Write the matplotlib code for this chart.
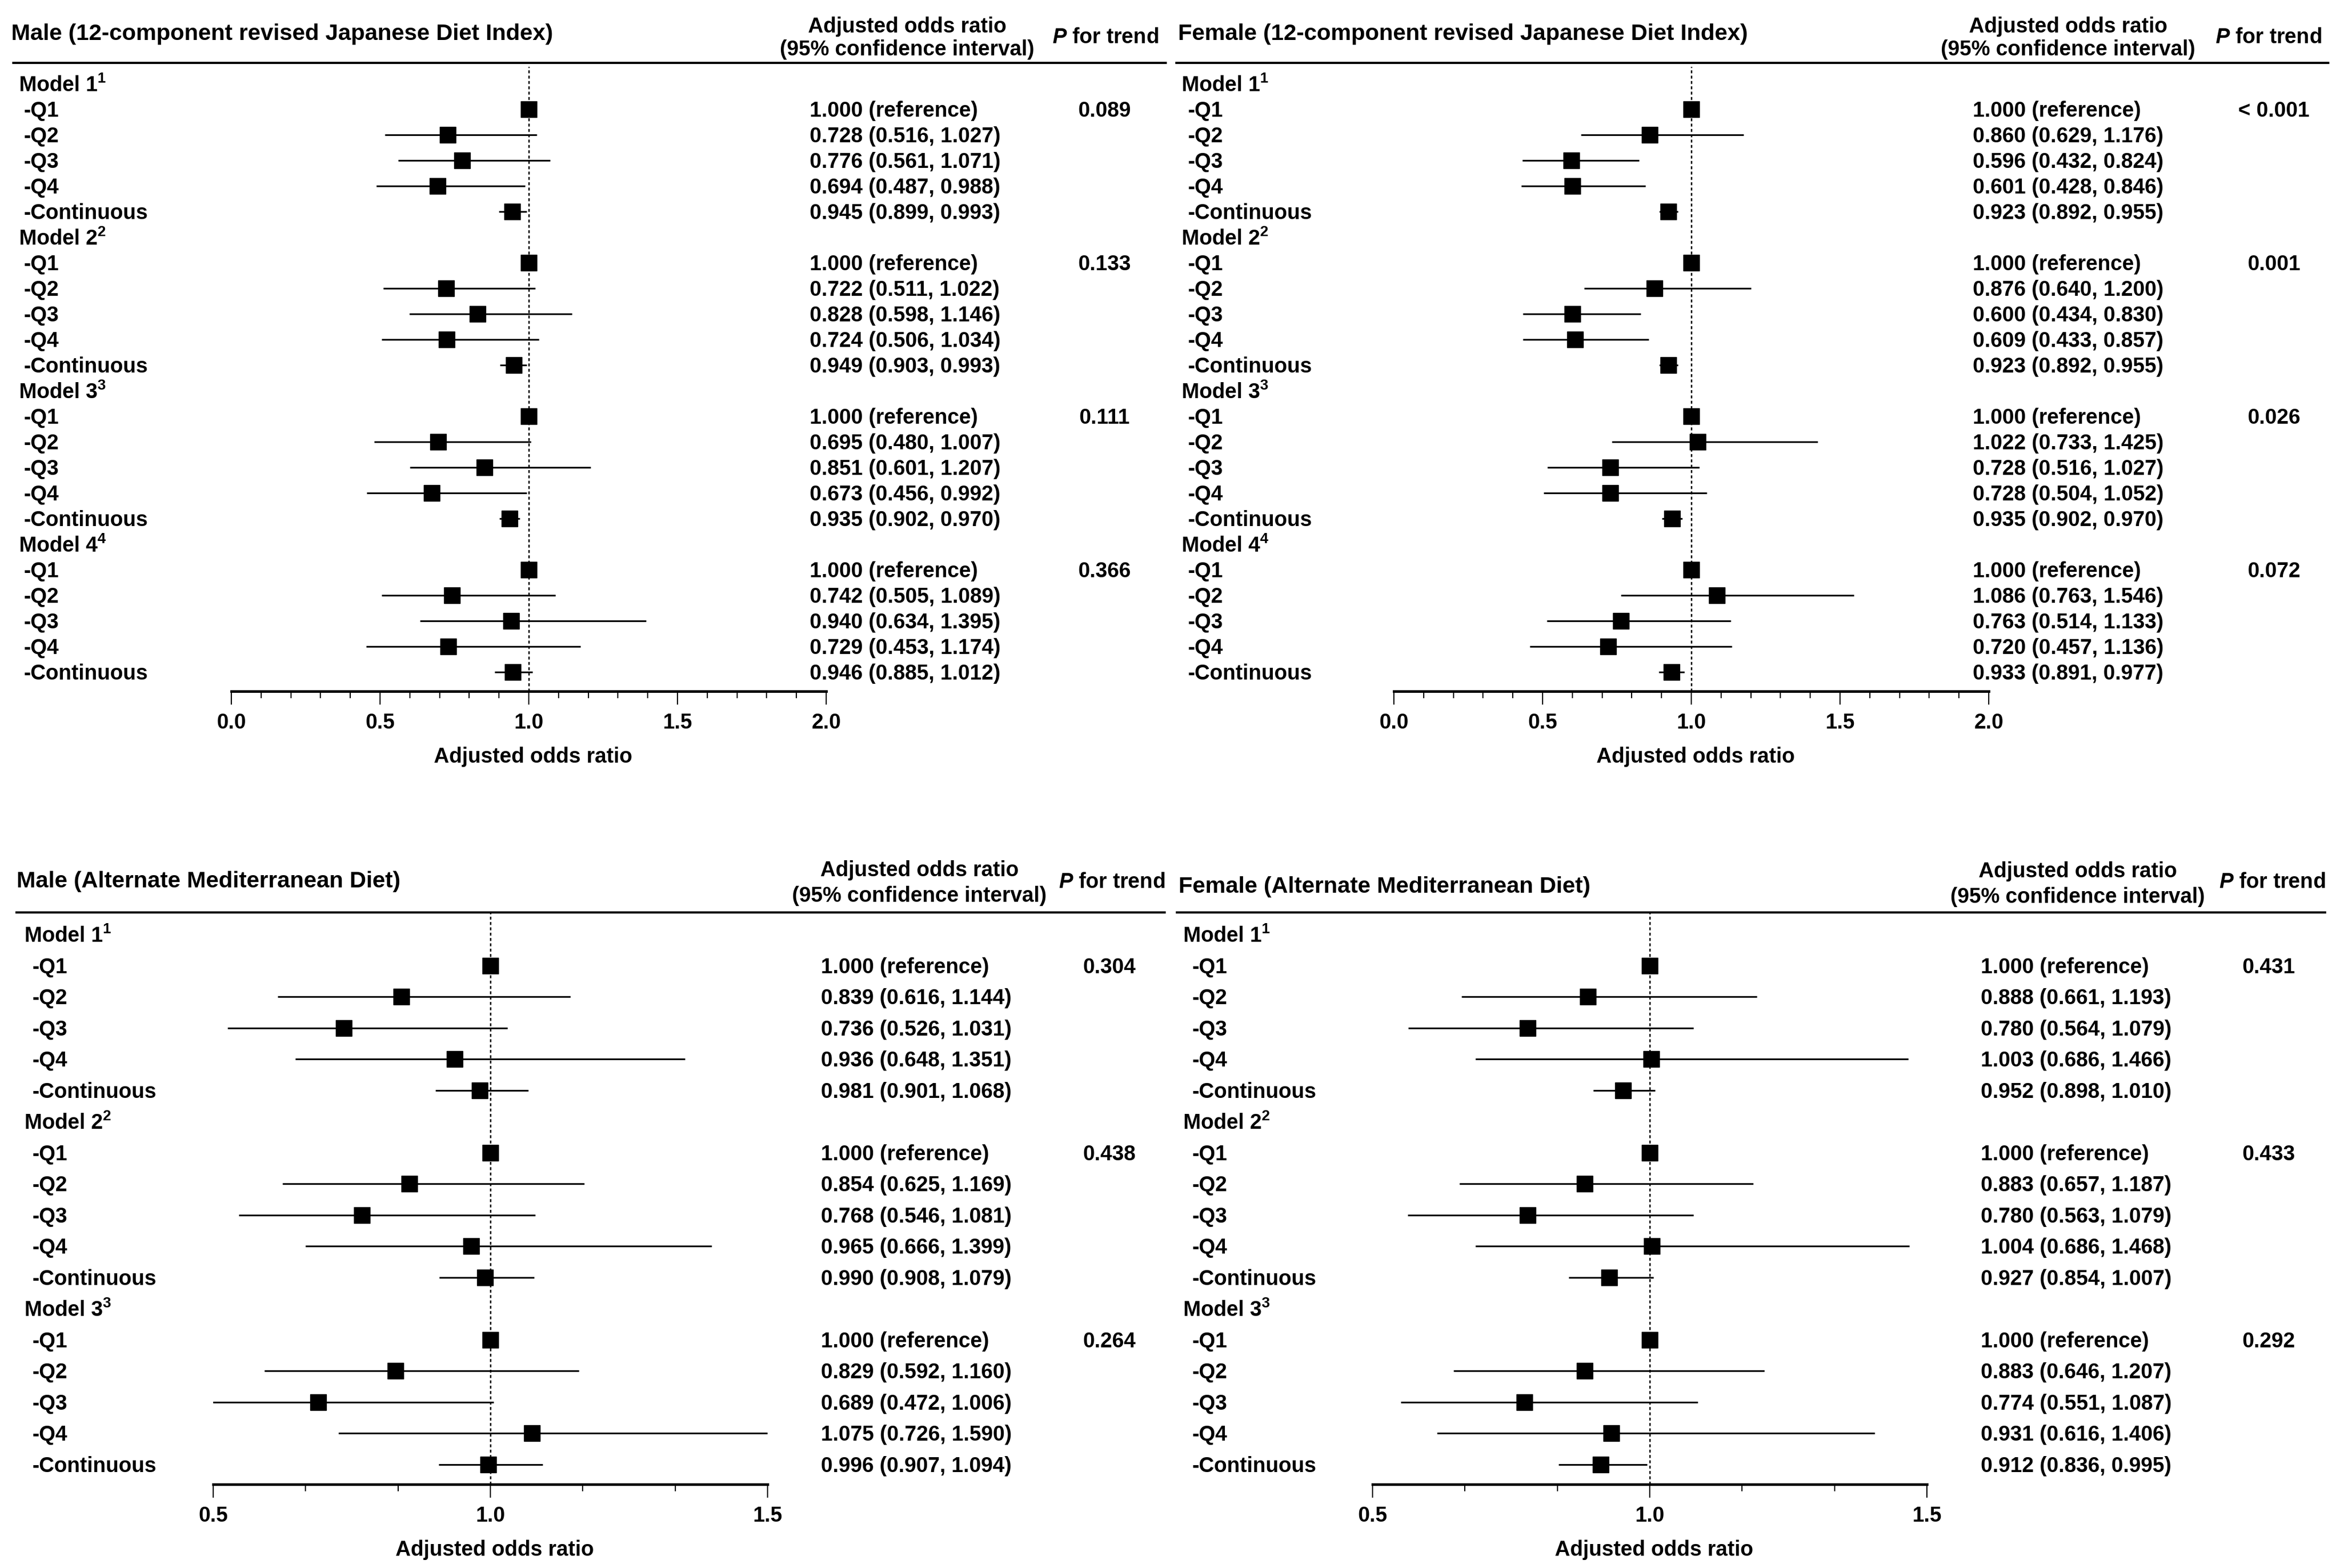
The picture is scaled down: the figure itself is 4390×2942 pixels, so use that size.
import numpy as np
import matplotlib
matplotlib.use("Agg")
import matplotlib.pyplot as plt
import matplotlib.transforms as mtransforms
from matplotlib.ticker import MultipleLocator, FormatStrFormatter

plt.rcParams['font.family'] = ['Liberation Sans', 'DejaVu Sans']
plt.rcParams['font.weight'] = 'bold'
plt.rcParams['mathtext.fontset'] = 'custom'
plt.rcParams['mathtext.rm'] = 'Liberation Sans:bold'
plt.rcParams['mathtext.it'] = 'Liberation Sans:italic:bold'
plt.rcParams['mathtext.bf'] = 'Liberation Sans:bold'

# ---------------- data ----------------
items = ["-Q1", "-Q2", "-Q3", "-Q4", "-Continuous"]
models_jdi = ["Model 1$^{1}$", "Model 2$^{2}$", "Model 3$^{3}$", "Model 4$^{4}$"]
models_amed = ["Model 1$^{1}$", "Model 2$^{2}$", "Model 3$^{3}$"]

nan = np.nan
# Male, 12-component revised Japanese Diet Index
male_jdi_or = [[1.000, 0.728, 0.776, 0.694, 0.945],
               [1.000, 0.722, 0.828, 0.724, 0.949],
               [1.000, 0.695, 0.851, 0.673, 0.935],
               [1.000, 0.742, 0.940, 0.729, 0.946]]
male_jdi_lo = [[nan, 0.516, 0.561, 0.487, 0.899],
               [nan, 0.511, 0.598, 0.506, 0.903],
               [nan, 0.480, 0.601, 0.456, 0.902],
               [nan, 0.505, 0.634, 0.453, 0.885]]
male_jdi_hi = [[nan, 1.027, 1.071, 0.988, 0.993],
               [nan, 1.022, 1.146, 1.034, 0.993],
               [nan, 1.007, 1.207, 0.992, 0.970],
               [nan, 1.089, 1.395, 1.174, 1.012]]
male_jdi_p = ["0.089", "0.133", "0.111", "0.366"]

# Female, 12-component revised Japanese Diet Index
female_jdi_or = [[1.000, 0.860, 0.596, 0.601, 0.923],
                 [1.000, 0.876, 0.600, 0.609, 0.923],
                 [1.000, 1.022, 0.728, 0.728, 0.935],
                 [1.000, 1.086, 0.763, 0.720, 0.933]]
female_jdi_lo = [[nan, 0.629, 0.432, 0.428, 0.892],
                 [nan, 0.640, 0.434, 0.433, 0.892],
                 [nan, 0.733, 0.516, 0.504, 0.902],
                 [nan, 0.763, 0.514, 0.457, 0.891]]
female_jdi_hi = [[nan, 1.176, 0.824, 0.846, 0.955],
                 [nan, 1.200, 0.830, 0.857, 0.955],
                 [nan, 1.425, 1.027, 1.052, 0.970],
                 [nan, 1.546, 1.133, 1.136, 0.977]]
female_jdi_p = ["< 0.001", "0.001", "0.026", "0.072"]

# Male, Alternate Mediterranean Diet
male_amed_or = [[1.000, 0.839, 0.736, 0.936, 0.981],
                [1.000, 0.854, 0.768, 0.965, 0.990],
                [1.000, 0.829, 0.689, 1.075, 0.996]]
male_amed_lo = [[nan, 0.616, 0.526, 0.648, 0.901],
                [nan, 0.625, 0.546, 0.666, 0.908],
                [nan, 0.592, 0.472, 0.726, 0.907]]
male_amed_hi = [[nan, 1.144, 1.031, 1.351, 1.068],
                [nan, 1.169, 1.081, 1.399, 1.079],
                [nan, 1.160, 1.006, 1.590, 1.094]]
male_amed_p = ["0.304", "0.438", "0.264"]

# Female, Alternate Mediterranean Diet
female_amed_or = [[1.000, 0.888, 0.780, 1.003, 0.952],
                  [1.000, 0.883, 0.780, 1.004, 0.927],
                  [1.000, 0.883, 0.774, 0.931, 0.912]]
female_amed_lo = [[nan, 0.661, 0.564, 0.686, 0.898],
                  [nan, 0.657, 0.563, 0.686, 0.854],
                  [nan, 0.646, 0.551, 0.616, 0.836]]
female_amed_hi = [[nan, 1.193, 1.079, 1.466, 1.010],
                  [nan, 1.187, 1.079, 1.468, 1.007],
                  [nan, 1.207, 1.087, 1.406, 0.995]]
female_amed_p = ["0.431", "0.433", "0.292"]

titles = ["Male (12-component revised Japanese Diet Index)",
          "Female (12-component revised Japanese Diet Index)",
          "Male (Alternate Mediterranean Diet)",
          "Female (Alternate Mediterranean Diet)"]

# ---------------- layout (pixels) ----------------
W, H, DPI = 4390, 2942, 100
FS = 28.5
FS_TITLE = 31
CAP = 0.716 * FS * DPI / 72.0  # cap height in px

fig = plt.figure(figsize=(W / DPI, H / DPI), dpi=DPI)


def fy(px):
    return 1 - px / H


def fig_text(x, yc, s, ha='left', size=FS):
    cap = 0.716 * size * DPI / 72.0
    fig.text(x / W, fy(yc + cap / 2), s, ha=ha, va='baseline', fontsize=size,
             fontweight='bold')


panels = [
    dict(title_xy=(21, 60), line=(25, 2187, 118), hdr_x=1702, hdr_y=(47, 90),
         ptr_xy=(2074, 67), ax_x=(434, 1550), ax_y=(125, 1297), xlim=(0.0, 2.0),
         major=0.5, minor=0.1, rows=(157, 48.0), model_x=35, item_x=45,
         or_x=1519, p_x=2072, lab_y=1417),
    dict(title_xy=(2210, 60), line=(2207, 4368, 118), hdr_x=3880, hdr_y=(47, 90),
         ptr_xy=(4256, 67), ax_x=(2615, 3731), ax_y=(125, 1297), xlim=(0.0, 2.0),
         major=0.5, minor=0.1, rows=(157, 48.0), model_x=2216, item_x=2228,
         or_x=3701, p_x=4266, lab_y=1417),
    dict(title_xy=(31, 1650), line=(31, 2185, 1712), hdr_x=1725, hdr_y=(1630, 1678),
         ptr_xy=(2086, 1652), ax_x=(400, 1440), ax_y=(1713, 2785), xlim=(0.5, 1.5),
         major=0.5, minor=1 / 6, rows=(1753, 58.5), model_x=45, item_x=60,
         or_x=1540, p_x=2081, lab_y=2905),
    dict(title_xy=(2211, 1660), line=(2208, 4362, 1712), hdr_x=3898, hdr_y=(1632, 1680),
         ptr_xy=(4263, 1652), ax_x=(2575, 3615), ax_y=(1713, 2785), xlim=(0.5, 1.5),
         major=0.5, minor=1 / 6, rows=(1753, 58.5), model_x=2219, item_x=2236,
         or_x=3716, p_x=4256, lab_y=2905),
]

datasets = [
    (models_jdi, male_jdi_or, male_jdi_lo, male_jdi_hi, male_jdi_p),
    (models_jdi, female_jdi_or, female_jdi_lo, female_jdi_hi, female_jdi_p),
    (models_amed, male_amed_or, male_amed_lo, male_amed_hi, male_amed_p),
    (models_amed, female_amed_or, female_amed_lo, female_amed_hi, female_amed_p),
]

for cfg, title, (models, ors, los, his, ps) in zip(panels, titles, datasets):
    # title, header line, column headers
    fig_text(cfg['title_xy'][0], cfg['title_xy'][1], title, size=FS_TITLE)
    lx0, lx1, ly = cfg['line']
    fig.add_artist(plt.Line2D([lx0 / W, lx1 / W], [fy(ly), fy(ly)],
                              transform=fig.transFigure, color='black', lw=3.0))
    fig_text(cfg['hdr_x'], cfg['hdr_y'][0], "Adjusted odds ratio", ha='center')
    fig_text(cfg['hdr_x'], cfg['hdr_y'][1], "(95% confidence interval)", ha='center')
    fig_text(cfg['ptr_xy'][0], cfg['ptr_xy'][1], "$P$ for trend", ha='center')

    x0, x1 = cfg['ax_x']
    ytop, ybot = cfg['ax_y']
    r0, dr = cfg['rows']
    ax = fig.add_axes([x0 / W, fy(ybot), (x1 - x0) / W, (ybot - ytop) / H])
    ax.set_xlim(*cfg['xlim'])
    ax.set_ylim((ybot - r0) / dr, (ytop - r0) / dr)
    ax.patch.set_alpha(0)
    for s in ['top', 'left', 'right']:
        ax.spines[s].set_visible(False)
    ax.spines['bottom'].set_linewidth(3.5)
    ax.set_yticks([])
    ax.xaxis.set_major_locator(MultipleLocator(cfg['major']))
    ax.xaxis.set_minor_locator(MultipleLocator(cfg['minor']))
    ax.xaxis.set_major_formatter(FormatStrFormatter('%.1f'))
    ax.tick_params(axis='x', which='major', length=18, width=1.6, labelsize=FS, pad=11)
    ax.tick_params(axis='x', which='minor', length=9, width=1.6)
    for lab in ax.get_xticklabels():
        lab.set_fontweight('bold')

    ax.axvline(1.0, color='black', lw=1.8, ls=(0, (2.2, 1.8)), zorder=1)

    trans = mtransforms.blended_transform_factory(fig.transFigure, ax.transData)
    boff = (CAP / 2) / dr  # baseline offset in row units

    for m, mname in enumerate(models):
        base = m * 6
        ax.text(cfg['model_x'] / W, base + boff, mname, transform=trans,
                ha='left', va='baseline', fontsize=FS, fontweight='bold', clip_on=False)
        orv = np.array(ors[m])
        lo = np.array(los[m])
        hi = np.array(his[m])
        yy = base + 1 + np.arange(len(items))
        xerr = np.vstack([np.nan_to_num(orv - lo), np.nan_to_num(hi - orv)])
        ax.errorbar(orv, yy, xerr=xerr, fmt='s', color='black', ms=21,
                    elinewidth=2.3, capsize=0, zorder=3)
        for i, it in enumerate(items):
            ax.text(cfg['item_x'] / W, yy[i] + boff, it, transform=trans,
                    ha='left', va='baseline', fontsize=FS, fontweight='bold', clip_on=False)
            if np.isnan(lo[i]):
                s = f"{orv[i]:.3f} (reference)"
            else:
                s = f"{orv[i]:.3f} ({lo[i]:.3f}, {hi[i]:.3f})"
            ax.text(cfg['or_x'] / W, yy[i] + boff, s, transform=trans,
                    ha='left', va='baseline', fontsize=FS, fontweight='bold', clip_on=False)
        ax.text(cfg['p_x'] / W, base + 1 + boff, ps[m], transform=trans,
                ha='center', va='baseline', fontsize=FS, fontweight='bold', clip_on=False)

    fig_text((x0 + x1) / 2 + 8, cfg['lab_y'], "Adjusted odds ratio", ha='center')

fig.savefig("out.png", dpi=DPI, facecolor='white')
